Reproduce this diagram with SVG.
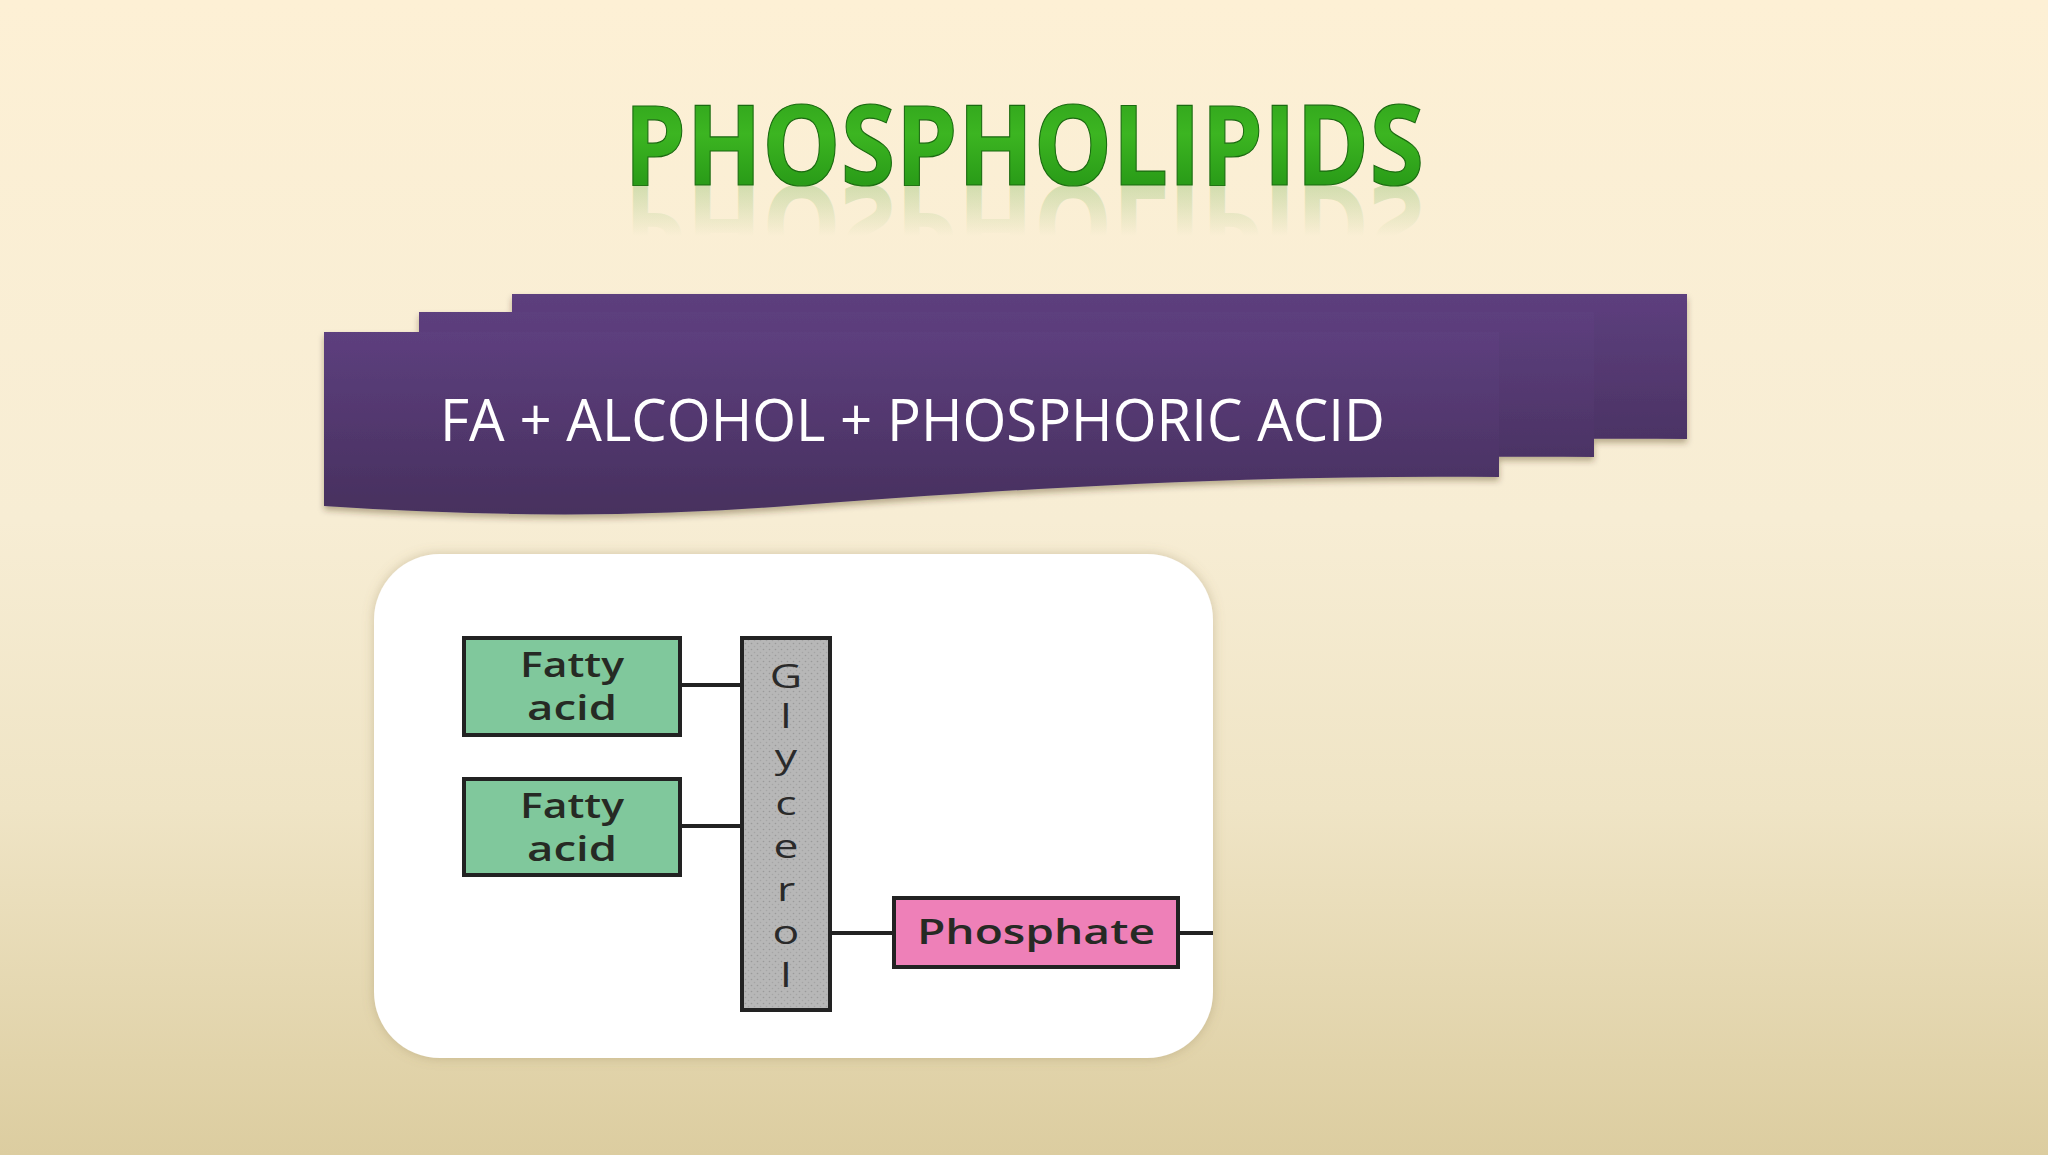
<svg xmlns="http://www.w3.org/2000/svg" width="2048" height="1155" viewBox="0 0 2048 1155">
<defs>
<linearGradient id="bg" x1="0" y1="0" x2="0" y2="1">
<stop offset="0" stop-color="#fdf0d5"/>
<stop offset="0.45" stop-color="#f7edd4"/>
<stop offset="0.7" stop-color="#efe4c5"/>
<stop offset="1" stop-color="#dccda0"/>
</linearGradient>
<linearGradient id="titleG" x1="0" y1="0" x2="0" y2="1">
<stop offset="0" stop-color="#2a9a1a"/>
<stop offset="0.45" stop-color="#3cb521"/>
<stop offset="1" stop-color="#1d8a12"/>
</linearGradient>
<linearGradient id="reflG" x1="0" y1="0" x2="0" y2="1">
<stop offset="0" stop-color="#3a9a20" stop-opacity="0"/>
<stop offset="0.45" stop-color="#3a9a20" stop-opacity="0"/>
<stop offset="1" stop-color="#3a9a20" stop-opacity="0.35"/>
</linearGradient>
<linearGradient id="purp" x1="0" y1="0" x2="0" y2="1">
<stop offset="0" stop-color="#5d3f7e"/>
<stop offset="1" stop-color="#47305e"/>
</linearGradient>
<filter id="shadow" x="-5%" y="-10%" width="110%" height="130%">
<feDropShadow dx="0" dy="4" stdDeviation="3" flood-color="#3a2a10" flood-opacity="0.35"/>
</filter>
<filter id="glow" x="-5%" y="-5%" width="110%" height="110%">
<feDropShadow dx="0" dy="0" stdDeviation="6" flood-color="#8a7a50" flood-opacity="0.35"/>
</filter>
<pattern id="dots" width="6" height="6" patternUnits="userSpaceOnUse">
<rect width="6" height="6" fill="#b7b7b7"/>
<circle cx="1.5" cy="1.5" r="0.8" fill="#9a9a9a"/>
<circle cx="4.5" cy="4.5" r="0.8" fill="#a5a5a5"/>
</pattern>
<path id="wave" d="M0,0 H1175 V145 C900,142 650,160 450,175 C300,186 150,184 0,174 Z"/>
<style>
.box{stroke:#222;stroke-width:4}
.fa{fill:#80c89c}
.ph{fill:#ee80b8}
.lbl{font-family:"Open Sans","Liberation Sans",sans-serif;fill:#262a24;font-weight:600}
.gl{font-family:"Open Sans","Liberation Sans",sans-serif;fill:#2a2a2a;font-size:33px;font-weight:500;text-anchor:middle}
.conn{stroke:#222;stroke-width:4;fill:none}
</style>
</defs>
<rect width="2048" height="1155" fill="url(#bg)"/>
<g id="title">
<text x="624" y="185" font-family="'Open Sans','Liberation Sans',sans-serif" font-weight="700" font-size="112" textLength="800" lengthAdjust="spacingAndGlyphs" fill="url(#titleG)" stroke="#1a6a10" stroke-width="1.2">PHOSPHOLIPIDS</text>
<text x="624" y="185" transform="translate(0,370) scale(1,-1)" font-family="'Open Sans','Liberation Sans',sans-serif" font-weight="700" font-size="112" textLength="800" lengthAdjust="spacingAndGlyphs" fill="url(#reflG)">PHOSPHOLIPIDS</text>
</g>
<g id="banner" filter="url(#shadow)">
<use href="#wave" transform="translate(512,294)" fill="url(#purp)"/>
<use href="#wave" transform="translate(419,312)" fill="url(#purp)"/>
<use href="#wave" transform="translate(324,332)" fill="url(#purp)"/>
</g>
<text x="440" y="441" font-family="'Open Sans','Liberation Sans',sans-serif" font-size="58" textLength="945" lengthAdjust="spacingAndGlyphs" fill="#ffffff">FA + ALCOHOL + PHOSPHORIC ACID</text>
<rect id="panel" x="374" y="554" width="839" height="504" rx="66" fill="#ffffff" filter="url(#glow)"/>
<g id="connectors">
<line class="conn" x1="680" y1="685" x2="742" y2="685"/>
<line class="conn" x1="680" y1="826" x2="742" y2="826"/>
<line class="conn" x1="830" y1="933" x2="894" y2="933"/>
<line class="conn" x1="1178" y1="933" x2="1213" y2="933"/>
</g>
<g id="fatty-acid-1">
<rect class="box fa" x="464" y="638" width="216" height="97"/>
<text class="lbl" x="572" y="677" font-size="34" text-anchor="middle" textLength="104" lengthAdjust="spacingAndGlyphs">Fatty</text>
<text class="lbl" x="572" y="720" font-size="34" text-anchor="middle" textLength="90" lengthAdjust="spacingAndGlyphs">acid</text>
</g>
<g id="fatty-acid-2">
<rect class="box fa" x="464" y="779" width="216" height="96"/>
<text class="lbl" x="572" y="818" font-size="34" text-anchor="middle" textLength="104" lengthAdjust="spacingAndGlyphs">Fatty</text>
<text class="lbl" x="572" y="861" font-size="34" text-anchor="middle" textLength="90" lengthAdjust="spacingAndGlyphs">acid</text>
</g>
<g id="glycerol">
<rect class="box" x="742" y="638" width="88" height="372" fill="url(#dots)"/>
<g transform="translate(786,0) scale(1.35,1)">
<text class="gl"><tspan x="0" y="688">G</tspan><tspan x="0" y="728">l</tspan><tspan x="0" y="768">y</tspan><tspan x="0" y="815">c</tspan><tspan x="0" y="858">e</tspan><tspan x="0" y="901">r</tspan><tspan x="0" y="944">o</tspan><tspan x="0" y="987">l</tspan></text>
</g>
</g>
<g id="phosphate">
<rect class="box ph" x="894" y="898" width="284" height="69"/>
<text class="lbl" x="1036" y="944" font-size="34" text-anchor="middle" textLength="238" lengthAdjust="spacingAndGlyphs">Phosphate</text>
</g>
</svg>
